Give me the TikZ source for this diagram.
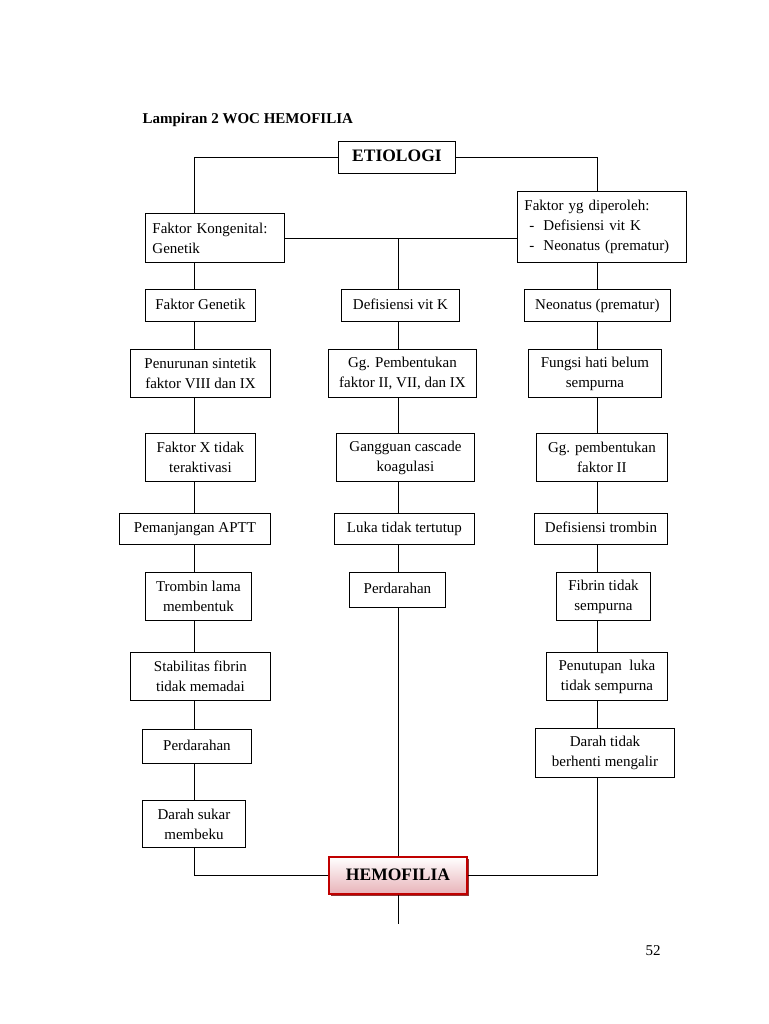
\documentclass[tikz,border=0pt]{standalone}
\usepackage{fontspec}
\setmainfont{Liberation Serif}
\usetikzlibrary{shadows}
\definecolor{hemored}{RGB}{192,0,0}
\definecolor{hemopink}{RGB}{232,178,184}
\newcommand\bx[6]{\node[box, minimum width={#4-#2}, minimum height={#5-#3}, anchor=north west] (#1) at (#2,#3) {#6};}
\newcommand\up[1]{\raisebox{2.5pt}{#1}}
\begin{document}
\begin{tikzpicture}[x=1pt,y=-1pt,
  box/.style={draw=black, line width=0.9pt, inner xsep=2pt, inner ysep=0pt, align=center, font=\fontsize{15}{20}\selectfont},
  link/.style={draw=black, line width=0.9pt},
  hemobox/.style={draw=hemored, line width=1.2pt, top color=white, bottom color=hemopink,
     drop shadow={shadow xshift=1.5pt, shadow yshift=-1.5pt, fill=hemored!60!black, opacity=0.8},
     minimum width=138, minimum height=37, inner sep=0pt, font=\fontsize{17.5}{20}\selectfont\bfseries}]
\useasboundingbox (0,0) rectangle (768,1024);
\coordinate (L) at (194,0);
\coordinate (M) at (398,0);
\coordinate (R) at (597,0);

\node[anchor=west, font=\fontsize{15}{18}\selectfont\bfseries] (title) at (139,120) {Lampiran 2 WOC HEMOFILIA};

\node[box, minimum width=117, minimum height=32, anchor=north west, font=\fontsize{17.5}{20}\selectfont\bfseries] (etio) at (338,141) {\up{ETIOLOGI}};

\node[box, align=left, text width=125, inner xsep=7pt, minimum height=49, anchor=north west] (kong) at (145,213) {Faktor Kongenital:\\Genetik};
\node[box, align=left, text width=155, inner xsep=7pt, minimum height=71, anchor=north west] (dip) at (517,191) {Faktor yg diperoleh:\\\hspace*{5pt}-\hspace*{9pt}Defisiensi vit K\\\hspace*{5pt}-\hspace*{9pt}Neonatus (prematur)};

% left column
\bx{l1}{145}{289}{255}{321}{\up{Faktor Genetik}}
\bx{l2}{130}{349}{270}{397}{Penurunan sintetik\\faktor VIII dan IX}
\bx{l3}{145}{433}{255}{481}{Faktor X tidak\\teraktivasi}
\bx{l4}{119}{513}{270}{544}{\up{Pemanjangan APTT}}
\bx{l5}{145}{572}{251}{620}{Trombin lama\\membentuk}
\bx{l6}{130}{652}{270}{700}{Stabilitas fibrin\\tidak memadai}
\bx{l7}{142}{729}{251}{763}{\up{Perdarahan}}
\bx{l8}{142}{800}{245}{847}{Darah sukar\\membeku}

% middle column
\bx{m1}{341}{289}{459}{321}{\up{Defisiensi vit K}}
\bx{m2}{328}{349}{476}{397}{Gg. Pembentukan\\faktor II, VII, dan IX}
\bx{m3}{336}{433}{474}{481}{Gangguan cascade\\koagulasi}
\bx{m4}{334}{513}{474}{544}{\up{Luka tidak tertutup}}
\bx{m5}{349}{572}{445}{607}{\up{Perdarahan}}

% right column
\bx{r1}{524}{289}{670}{321}{\up{Neonatus (prematur)}}
\bx{r2}{528}{349}{661}{397}{Fungsi hati belum\\sempurna}
\bx{r3}{536}{433}{667}{481}{Gg. pembentukan\\faktor II}
\bx{r4}{534}{513}{667}{544}{\up{Defisiensi trombin}}
\bx{r5}{556}{572}{650}{620}{Fibrin tidak\\sempurna}
\bx{r6}{546}{652}{667}{700}{Penutupan~ luka\\tidak sempurna}
\bx{r7}{535}{728}{674}{777}{Darah tidak\\berhenti mengalir}

\node[hemobox] (hemo) at (398,875.5) {\up{HEMOFILIA}};
\coordinate (hend) at (398,924);

\node[font=\fontsize{15}{18}\selectfont] (page) at (653,951) {52};

% connectors
\draw[link] (etio.west) -| (kong.north -| L);
\draw[link] (etio.east) -| (dip.north -| R);
\draw[link] (kong.east |- 0,238) -- (dip.west |- 0,238);
\draw[link] (M |- 0,238) -- (m1.north -| M);
\draw[link] (kong.south -| L) -- (l1.north -| L);
\draw[link] (dip.south -| R) -- (r1.north -| R);

\foreach \a/\b in {l1/l2,l2/l3,l3/l4,l4/l5,l5/l6,l6/l7,l7/l8}
  \draw[link] (\a.south -| L) -- (\b.north -| L);
\foreach \a/\b in {m1/m2,m2/m3,m3/m4,m4/m5}
  \draw[link] (\a.south -| M) -- (\b.north -| M);
\foreach \a/\b in {r1/r2,r2/r3,r3/r4,r4/r5,r5/r6,r6/r7}
  \draw[link] (\a.south -| R) -- (\b.north -| R);

\draw[link] (l8.south -| L) |- (hemo.west);
\draw[link] (m5.south -| M) -- (hemo.north);
\draw[link] (r7.south -| R) |- (hemo.east);
\draw[link] (hemo.south) -- (hend);
\end{tikzpicture}
\end{document}
